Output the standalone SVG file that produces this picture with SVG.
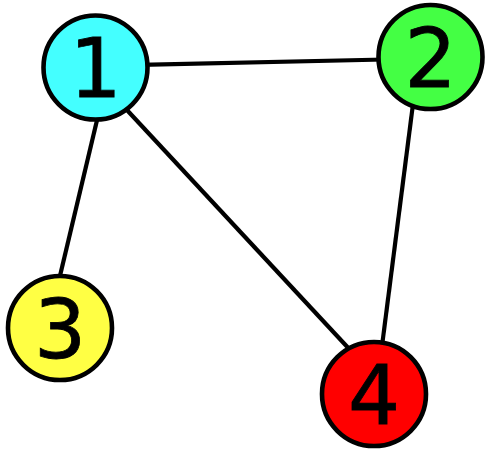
<svg xmlns="http://www.w3.org/2000/svg" width="492" height="456" viewBox="0 0 492 456">
<style>
.e{stroke:#000;stroke-width:4.2;fill:none}
.n{stroke:#000;stroke-width:4.6}
.t{font-family:"DejaVu Sans",sans-serif;font-size:82px;fill:#000;stroke:#000;stroke-width:0.8;text-anchor:middle}
</style>
<rect width="492" height="456" fill="#fff"/>
<g id="edges">
<line class="e" x1="140" y1="64.8" x2="385" y2="59.5"/>
<line class="e" x1="98" y1="116" x2="59" y2="280"/>
<line class="e" x1="126" y1="109" x2="352" y2="352"/>
<line class="e" x1="413" y1="104" x2="382" y2="346"/>
</g>
<g id="node1"><circle class="n" cx="95.5" cy="67.5" r="52" fill="#44ffff"/><text class="t" x="95.5" y="97">1</text></g>
<g id="node2"><circle class="n" cx="430.5" cy="57" r="52" fill="#44ff44"/><text class="t" x="430.5" y="87">2</text></g>
<g id="node3"><circle class="n" cx="60" cy="328" r="52" fill="#ffff44"/><text class="t" x="60" y="358">3</text></g>
<g id="node4"><circle class="n" cx="374" cy="394" r="52" fill="#ff0000"/><text class="t" x="374" y="424">4</text></g>
</svg>
